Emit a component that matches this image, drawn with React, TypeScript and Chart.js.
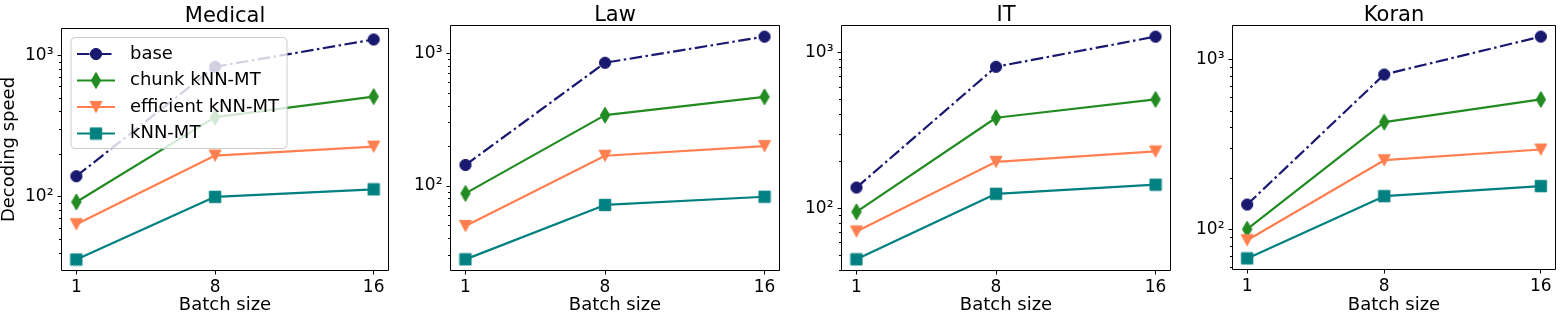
import React, { useEffect, useRef } from "react";
import { Chart, registerables } from "chart.js";

Chart.register(...registerables);

const FONT = "'DejaVu Sans', 'Liberation Sans', sans-serif";

// ---------------- data ----------------
const domains = ["Medical", "Law", "IT", "Koran"];
const batchSizes = [1, 8, 16];
const xTickValues = [1, 8, 16];
const seriesLabels = ["base", "chunk kNN-MT", "efficient kNN-MT", "kNN-MT"];
const xAxisTitle = "Batch size";
const yAxisTitle = "Decoding speed";

const medicalBase = [140, 834, 1301];
const medicalChunk = [92, 367, 513];
const medicalEfficient = [64, 196, 227];
const medicalKnn = [36, 100, 113];

const lawBase = [144, 849, 1336];
const lawChunk = [88, 342, 470];
const lawEfficient = [50, 169, 200];
const lawKnn = [28, 72, 83];

const itBase = [136, 812, 1268];
const itChunk = [95, 382, 501];
const itEfficient = [71, 199, 232];
const itKnn = [47, 124, 142];

const koranBase = [141, 820, 1370];
const koranChunk = [101, 430, 585];
const koranEfficient = [87, 257, 297];
const koranKnn = [68, 158, 181];

const domainSeries = [
  [medicalBase, medicalChunk, medicalEfficient, medicalKnn],
  [lawBase, lawChunk, lawEfficient, lawKnn],
  [itBase, itChunk, itEfficient, itKnn],
  [koranBase, koranChunk, koranEfficient, koranKnn],
];

// ---------------- styles / layout ----------------
const seriesColors = ["#191970", "#228B22", "#FF7F50", "#008080"];
const seriesMarkers = ["circle", "thinDiamond", "triangleDown", "square"];
const seriesDashes = [[12.5, 3.5, 2.5, 3.5], [], [], []];

const panelLayout = [
  { canvasLeft: 0, canvasWidth: 400, frameLeft: 61.5, frameRight: 388.5, frameTop: 28.5, frameBottom: 270.5, titleBase: 21.5 },
  { canvasLeft: 400, canvasWidth: 390, frameLeft: 50.5, frameRight: 379.5, frameTop: 25.5, frameBottom: 270.5, titleBase: 21 },
  { canvasLeft: 790, canvasWidth: 390, frameLeft: 51.5, frameRight: 380.5, frameTop: 25.5, frameBottom: 270.5, titleBase: 21 },
  { canvasLeft: 1180, canvasWidth: 385, frameLeft: 52.5, frameRight: 375.5, frameTop: 25.5, frameBottom: 269.5, titleBase: 21 },
];
const CANVAS_H = 314;

const SUP: Record<string, string> = {
  "0": "\u2070", "1": "\u00b9", "2": "\u00b2", "3": "\u00b3", "4": "\u2074",
  "5": "\u2075", "6": "\u2076", "7": "\u2077", "8": "\u2078", "9": "\u2079", "-": "\u207b",
};

function logRange(values: number[]): [number, number] {
  const lo = Math.log10(Math.min(...values));
  const hi = Math.log10(Math.max(...values));
  const m = (hi - lo) * 0.05;
  return [Math.pow(10, lo - m), Math.pow(10, hi + m)];
}
function linRange(values: number[]): [number, number] {
  const lo = Math.min(...values);
  const hi = Math.max(...values);
  const m = (hi - lo) * 0.05;
  return [lo - m, hi + m];
}
function isPow10(v: number) {
  const e = Math.round(Math.log10(v));
  return Math.abs(v - Math.pow(10, e)) < 1e-9 * v;
}

function makeMarker(kind: string, color: string): HTMLCanvasElement {
  const c = document.createElement("canvas");
  let w = 14, h = 14;
  if (kind === "thinDiamond") { w = 12; h = 18; }
  c.width = w; c.height = h;
  const ctx = c.getContext("2d")!;
  ctx.fillStyle = color;
  ctx.strokeStyle = color;
  ctx.lineWidth = 1;
  ctx.beginPath();
  if (kind === "circle") {
    ctx.arc(7, 7, 5.6, 0, Math.PI * 2);
  } else if (kind === "square") {
    ctx.rect(1.3, 1.3, 11.4, 11.4);
  } else if (kind === "triangleDown") {
    ctx.moveTo(1.0, 1.4);
    ctx.lineTo(13.0, 1.4);
    ctx.lineTo(7, 12.6);
    ctx.closePath();
  } else {
    ctx.moveTo(6, 1.0);
    ctx.lineTo(10.7, 9);
    ctx.lineTo(6, 17.0);
    ctx.lineTo(1.3, 9);
    ctx.closePath();
  }
  ctx.fill();
  ctx.stroke();
  return c;
}

const framePlugin = {
  id: "mplFrame",
  afterDraw(chart: any, _args: any, opts: any) {
    const { ctx, chartArea } = chart;
    const { left, top, right, bottom } = chartArea;
    ctx.save();
    ctx.strokeStyle = "#000";
    ctx.lineWidth = 1;
    ctx.setLineDash([]);
    ctx.beginPath();
    ctx.rect(left, top, right - left, bottom - top);
    ctx.stroke();
    const xs = chart.scales.x;
    const ys = chart.scales.y;
    ctx.beginPath();
    xs.ticks.forEach((t: any) => {
      const px = Math.round(xs.getPixelForValue(t.value) - 0.5) + 0.5;
      ctx.moveTo(px, bottom);
      ctx.lineTo(px, bottom + 4);
    });
    ys.ticks.forEach((t: any) => {
      const py = Math.round(ys.getPixelForValue(t.value) - 0.5) + 0.5;
      const len = t.major ? 4 : 2.5;
      ctx.moveTo(left, py);
      ctx.lineTo(left - len, py);
    });
    ctx.stroke();
    ctx.fillStyle = "#000";
    ctx.font = `21px ${FONT}`;
    ctx.textAlign = "center";
    ctx.textBaseline = "alphabetic";
    ctx.fillText(opts.text, (left + right) / 2, opts.baseline);
    ctx.restore();
  },
};

const legendPlugin = {
  id: "insetLegend",
  afterDatasetsDraw(chart: any, _args: any, opts: any) {
    if (!opts || !opts.show) return;
    const { ctx, chartArea } = chart;
    const x0 = chartArea.left + 9.5;
    const y0 = chartArea.top + 9;
    const w = 216;
    const h = 111;
    ctx.save();
    ctx.beginPath();
    if (ctx.roundRect) ctx.roundRect(x0, y0, w, h, 4);
    else ctx.rect(x0, y0, w, h);
    ctx.fillStyle = "rgba(255,255,255,0.8)";
    ctx.fill();
    ctx.strokeStyle = "#cccccc";
    ctx.lineWidth = 1;
    ctx.stroke();
    chart.data.datasets.forEach((ds: any, i: number) => {
      const cy = y0 + 16.5 + i * 26.5;
      ctx.strokeStyle = ds.borderColor;
      ctx.lineWidth = ds.borderWidth;
      ctx.setLineDash(ds.borderDash || []);
      ctx.beginPath();
      ctx.moveTo(x0 + 6, cy);
      ctx.lineTo(x0 + 44, cy);
      ctx.stroke();
      ctx.setLineDash([]);
      const img = ds.pointStyle as HTMLCanvasElement;
      ctx.drawImage(img, x0 + 25 - img.width / 2, cy - img.height / 2);
      ctx.fillStyle = "#000";
      ctx.font = `18px ${FONT}`;
      ctx.textAlign = "left";
      ctx.textBaseline = "middle";
      ctx.fillText(ds.label, x0 + 59, cy);
    });
    ctx.restore();
  },
};

function Panel({ idx }: { idx: number }) {
  const ref = useRef<HTMLCanvasElement | null>(null);
  const lay = panelLayout[idx];

  useEffect(() => {
    if (!ref.current) return;
    const series = domainSeries[idx];
    const allVals = series.flat();
    const [yMin, yMax] = logRange(allVals);
    const [xMin, xMax] = linRange(batchSizes);

    const datasets = series.map((vals, k) => ({
      label: seriesLabels[k],
      data: batchSizes.map((x, j) => ({ x, y: vals[j] })),
      borderColor: seriesColors[k],
      backgroundColor: seriesColors[k],
      borderWidth: 2.2,
      borderDash: seriesDashes[k],
      borderJoinStyle: "round" as const,
      pointStyle: makeMarker(seriesMarkers[k], seriesColors[k]),
      pointRadius: 6,
      pointHoverRadius: 6,
      tension: 0,
      fill: false,
      order: 4 - k,
    }));

    const chart = new Chart(ref.current, {
      type: "line",
      data: { datasets },
      plugins: [legendPlugin, framePlugin],
      options: {
        animation: false,
        responsive: false,
        maintainAspectRatio: false,
        events: [],
        layout: {
          padding: { left: 0, top: lay.frameTop, right: lay.canvasWidth - lay.frameRight, bottom: 0 },
        },
        plugins: {
          legend: { display: false },
          tooltip: { enabled: false },
          title: { display: false },
          insetLegend: { show: idx === 0 },
          mplFrame: { text: domains[idx], baseline: lay.titleBase },
        } as any,
        scales: {
          x: {
            type: "linear",
            min: xMin,
            max: xMax,
            afterBuildTicks: (s: any) => {
              s.ticks = xTickValues.map((v) => ({ value: v }));
            },
            afterFit: (s: any) => {
              s.height = CANVAS_H - lay.frameBottom;
            },
            grid: { display: false, drawTicks: false },
            border: { display: false },
            ticks: {
              color: "#000",
              font: { family: FONT, size: 17 },
              padding: 7,
              autoSkip: false,
              maxRotation: 0,
              callback: (v: any) => String(v),
            },
            title: {
              display: true,
              text: xAxisTitle,
              color: "#000",
              font: { family: FONT, size: 18, lineHeight: 1 },
              padding: { top: 0, bottom: 0 },
            },
          },
          y: {
            type: "logarithmic",
            min: yMin,
            max: yMax,
            afterBuildTicks: (s: any) => {
              const ticks: any[] = [];
              const e0 = Math.floor(Math.log10(yMin));
              const e1 = Math.ceil(Math.log10(yMax));
              for (let e = e0; e <= e1; e++) {
                for (let m = 1; m <= 9; m++) {
                  const v = m * Math.pow(10, e);
                  if (v >= yMin && v <= yMax) ticks.push({ value: v, major: m === 1 });
                }
              }
              s.ticks = ticks;
            },
            afterFit: (s: any) => {
              s.width = lay.frameLeft;
            },
            grid: { display: false, drawTicks: false },
            border: { display: false },
            ticks: {
              color: "#000",
              font: { family: FONT, size: 17 },
              padding: 8,
              autoSkip: false,
              callback: (v: any) => {
                const n = Number(v);
                if (!isPow10(n)) return "";
                const e = String(Math.round(Math.log10(n)));
                return "10" + e.split("").map((ch) => SUP[ch] || ch).join("");
              },
            },
            title: {
              display: idx === 0,
              text: yAxisTitle,
              color: "#000",
              font: { family: FONT, size: 18, lineHeight: 1 },
              padding: { top: 0, bottom: 0 },
            },
          },
        },
      } as any,
    });
    return () => chart.destroy();
  }, [idx]);

  return (
    <canvas
      ref={ref}
      width={lay.canvasWidth}
      height={CANVAS_H}
      style={{ position: "absolute", left: lay.canvasLeft, top: 0, width: lay.canvasWidth, height: CANVAS_H }}
    />
  );
}

export default function App() {
  return (
    <div
      style={{
        position: "fixed",
        left: 0,
        top: 0,
        width: 1565,
        height: CANVAS_H,
        background: "#ffffff",
        overflow: "hidden",
      }}
    >
      {domains.map((_, i) => (
        <Panel key={i} idx={i} />
      ))}
    </div>
  );
}
